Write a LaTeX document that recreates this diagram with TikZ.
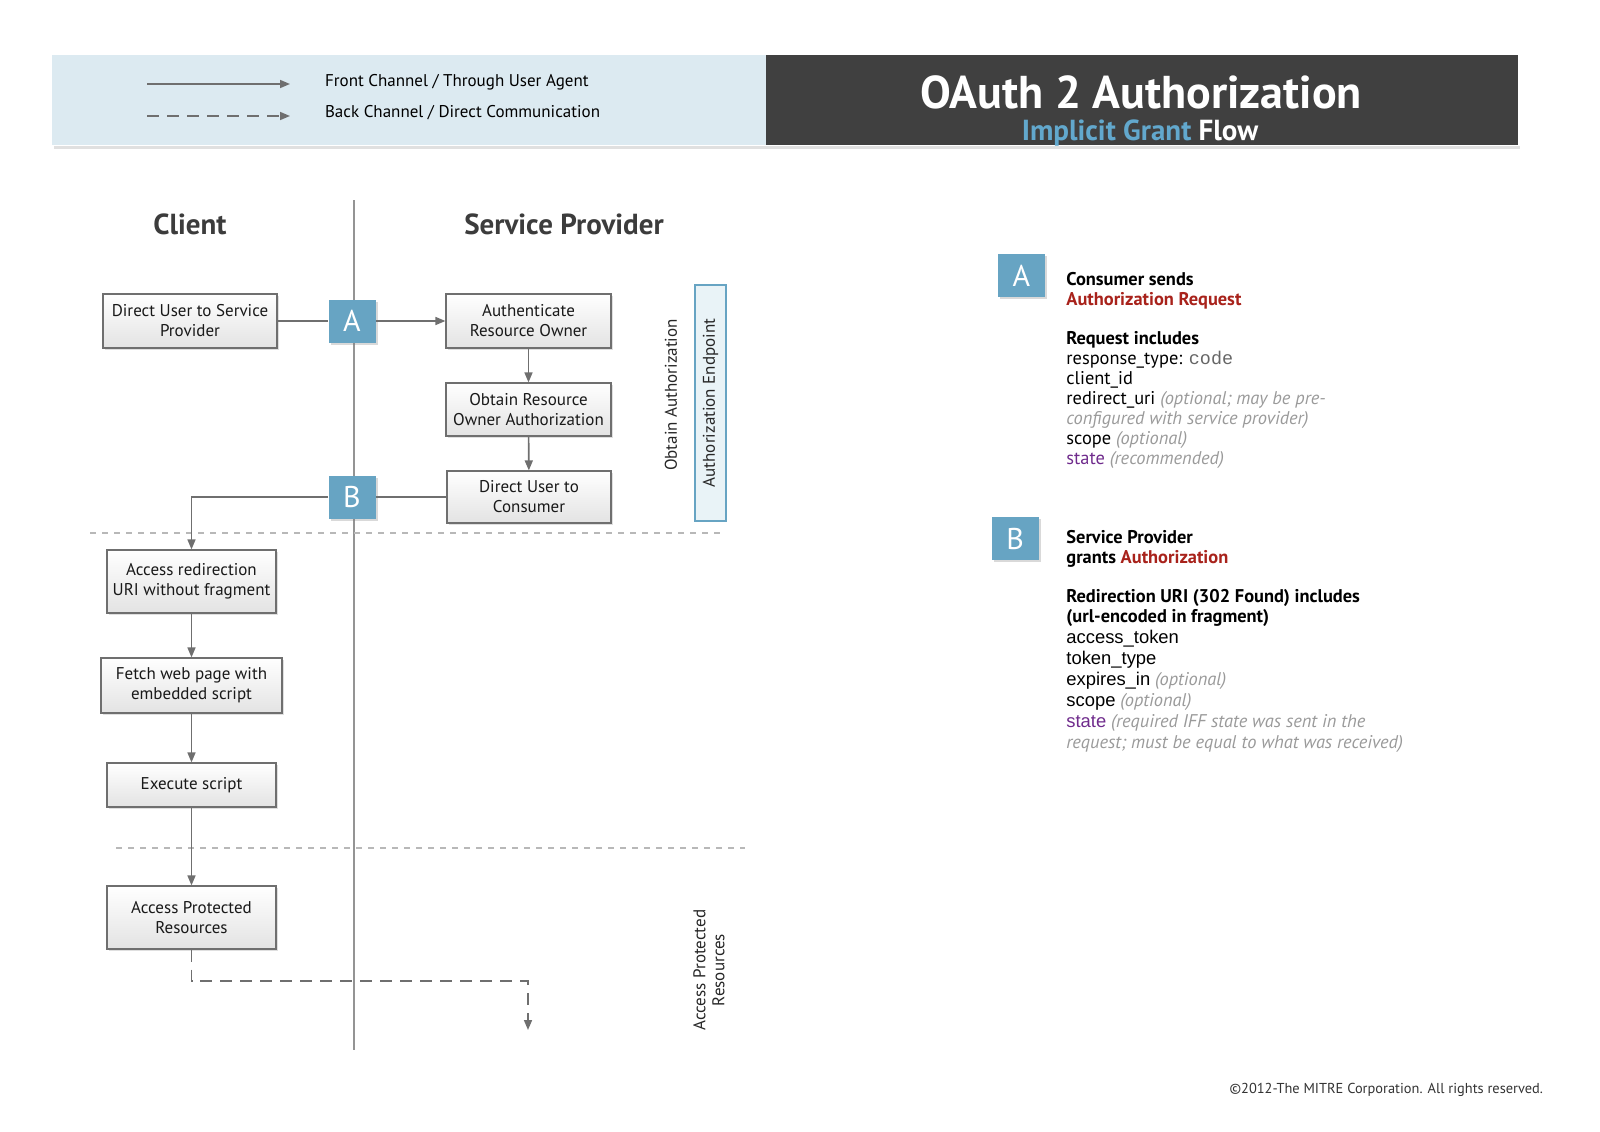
\documentclass[tikz,border=0pt]{standalone}
\usepackage{fontspec}
\setmainfont{PT Sans}
\newfontfamily\codefont{Liberation Mono}
\newfontfamily\listfont{Liberation Sans}
\usepackage{tikz}
\usetikzlibrary{arrows.meta, shadows}

\definecolor{bandblue}{HTML}{DCEAF1}
\definecolor{banddark}{HTML}{404040}
\definecolor{badgeblue}{HTML}{67A4C3}
\definecolor{titleblue}{HTML}{62A8CD}
\definecolor{linegray}{HTML}{6F6F6F}
\definecolor{headgray}{HTML}{3C3C3C}
\definecolor{redtext}{HTML}{A8221B}
\definecolor{purpletext}{HTML}{6F2B8C}
\definecolor{optgray}{HTML}{9A9A9A}
\definecolor{endfill}{HTML}{E9F3F7}

\newcommand{\optnote}[1]{\textcolor{optgray}{\textit{#1}}}

\begin{document}
\begin{tikzpicture}[x=0.5pt, y=-0.5pt,
    procbox/.style={draw=linegray, line width=0.6pt, top color=white, bottom color=black!11,
        drop shadow={opacity=0.25, shadow xshift=1pt, shadow yshift=-1pt},
        align=center, inner sep=0pt, text=black!90, font=\fontsize{8.5}{10}\selectfont},
    badge/.style={fill=badgeblue, minimum width=23.5pt, minimum height=21.5pt, inner sep=0pt,
        text=white, font=\fontsize{15}{15}\selectfont,
        drop shadow={opacity=0.3, shadow xshift=1pt, shadow yshift=-1pt}},
    link/.style={draw=linegray, line width=0.8pt},
    front/.style={link, -{Triangle[length=5pt, width=4pt]}},
    back/.style={front, dash pattern=on 6pt off 4pt},
    sep/.style={draw=black!28, line width=1.2pt, dash pattern=on 3pt off 3pt},
    heading/.style={text=headgray, font=\fontsize{14.5}{16}\selectfont\bfseries},
    sidetext/.style={rotate=90, align=center, text=black!85, font=\fontsize{8.5}{9.5}\selectfont},
    infotext/.style={align=left, inner sep=0pt, text=black, font=\fontsize{9.2}{10}\selectfont}]

    \useasboundingbox (0,0) rectangle (1600,1131);

    % header band
    \fill[black!12] (54,146) rectangle (1520,149);
    \fill[bandblue] (52,55) rectangle (766,145);
    \fill[banddark] (766,55) rectangle (1518,145);

    \coordinate (frontstart) at (147,84);
    \coordinate (frontend) at (290,84);
    \coordinate (backstart) at (147,116);
    \coordinate (backend) at (290,116);
    \draw[front] (frontstart) -- (frontend);
    \draw[back] (backstart) -- (backend);
    \node[anchor=west, font=\fontsize{8.5}{10}\selectfont] (frontlabel) at (318,82) {Front Channel / Through User Agent};
    \node[anchor=west, font=\fontsize{8.5}{10}\selectfont] (backlabel) at (318,113) {Back Channel / Direct Communication};

    \node[anchor=base, text=white, font=\fontsize{23}{26}\selectfont\bfseries] (title) at (1141,108) {OAuth 2 Authorization};
    \node[anchor=base, text=white, font=\fontsize{14.5}{16}\selectfont\bfseries] (subtitle) at (1140,140) {\textcolor{titleblue}{Implicit Grant} Flow};

    % swim lanes
    \node[heading] (client) at (190,224) {Client};
    \node[heading] (provider) at (564,224) {Service Provider};
    \coordinate (lanetop) at (354,200);
    \coordinate (lanebot) at (354,1050);
    \draw[draw=black!42, line width=1.2pt] (lanetop) -- (lanebot);

    \coordinate (sepAl) at (90,533);
    \coordinate (sepAr) at (720,533);
    \coordinate (sepBl) at (116,848);
    \coordinate (sepBr) at (745,848);
    \draw[sep] (sepAl) -- (sepAr);
    \draw[sep] (sepBl) -- (sepBr);

    % steps
    \node[procbox, minimum width=87pt, minimum height=27pt] (dusp) at (190,321) {Direct User to Service\\Provider};
    \node[badge] (badgeA) at (352,321) {A};
    \node[procbox, minimum width=82.5pt, minimum height=27pt] (auth) at (528.5,321) {Authenticate\\Resource Owner};
    \node[procbox, minimum width=82.5pt, minimum height=26.5pt] (obtain) at (528.5,409.5) {Obtain Resource\\Owner Authorization};
    \node[procbox, minimum width=82pt, minimum height=26pt] (duc) at (529,497) {Direct User to\\Consumer};
    \node[badge] (badgeB) at (352,497) {B};
    \node[procbox, minimum width=84.5pt, minimum height=31.5pt] (redir) at (191.5,581.5) {Access redirection\\URI without fragment};
    \node[procbox, minimum width=90.5pt, minimum height=27.5pt] (fetch) at (191.5,685.5) {Fetch web page with\\embedded script};
    \node[procbox, minimum width=84.5pt, minimum height=22pt] (exec) at (191.5,785) {Execute script};
    \node[procbox, minimum width=84.5pt, minimum height=31.5pt] (apr) at (191.5,917.5) {Access Protected\\Resources};

    \coordinate (turn) at (528,981);
    \coordinate (rsrc) at (528,1030);

    \draw[link] (dusp) -- (badgeA);
    \draw[front] (badgeA) -- (auth);
    \draw[front] (auth) -- (obtain);
    \draw[front] (obtain) -- (duc);
    \draw[link] (duc) -- (badgeB);
    \draw[front] (badgeB) -| (redir);
    \draw[front] (redir) -- (fetch);
    \draw[front] (fetch) -- (exec);
    \draw[front] (exec) -- (apr);
    \draw[back] (apr) |- (turn) -- (rsrc);

    % phase labels
    \node[sidetext] (obtainlabel) at (671,395) {Obtain Authorization};
    \node[sidetext, draw=badgeblue, fill=endfill, line width=0.9pt, minimum width=118pt, minimum height=15.5pt, inner sep=0pt] (endpoint) at (710.5,403) {Authorization Endpoint};
    \node[sidetext] (accesslabel) at (709,970) {Access Protected\\Resources};

    % notes
    \node[badge] (noteA) at (1021.5,275.5) {A};
    \node[infotext, anchor=north west] (textA) at (1066,272) {%
        \textbf{Consumer sends}\\
        \textbf{\textcolor{redtext}{Authorization Request}}\\[9.5pt]
        \textbf{Request includes}\\
        response\_type: {\codefont\color{black!60}code}\\
        client\_id\\
        redirect\_uri \optnote{(optional; may be pre-}\\
        \optnote{configured with service provider)}\\
        scope \optnote{(optional)}\\
        \textcolor{purpletext}{state} \optnote{(recommended)}};

    \node[badge] (noteB) at (1015,538.5) {B};
    \node[infotext, anchor=north west] (textB) at (1066,530) {%
        \textbf{Service Provider}\\
        \textbf{grants \textcolor{redtext}{Authorization}}\\[9.5pt]
        \textbf{Redirection URI (302 Found) includes}\\
        \textbf{(url-encoded in fragment)}\\[0.5pt]
        {\listfont access\_token}\\[0.5pt]
        {\listfont token\_type}\\[0.5pt]
        {\listfont expires\_in} \optnote{(optional)}\\[0.5pt]
        {\listfont scope} \optnote{(optional)}\\[0.5pt]
        {\listfont\color{purpletext}state} \optnote{(required IFF state was sent in the}\\[0.5pt]
        \optnote{request; must be equal to what was received)}};

    \node[anchor=base east, text=black!80, font=\fontsize{7.2}{9}\selectfont] (copyright) at (1550,1093) {\textcopyright2012-The MITRE Corporation. All rights reserved.};
\end{tikzpicture}
\end{document}
